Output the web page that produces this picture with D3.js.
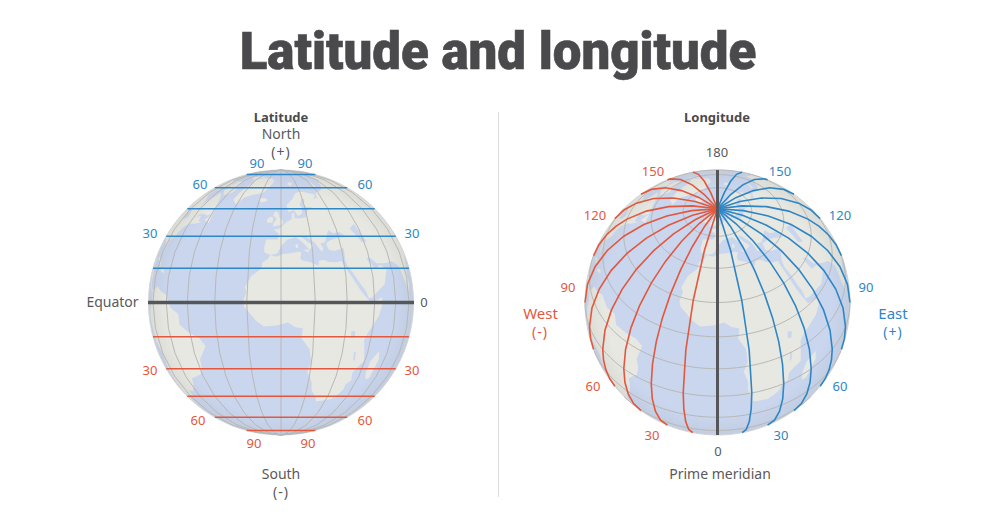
<!DOCTYPE html>
<html>
<head>
<meta charset="utf-8">
<script src="https://cdn.jsdelivr.net/npm/d3@7"></script>
<style>
  html, body { margin: 0; background: #fff; }
  text { font-family: "Noto Sans", sans-serif; font-size: 13px; }
  .title { font-family: Roboto, sans-serif; font-weight: 900; font-size: 51px; fill: #4a4a4c; stroke: #4a4a4c; stroke-width: 0.6px; }
  .head { font-weight: 700; fill: #4a4a4c; }
  .word { font-size: 14px; }
  .big { font-size: 15px; }
  .sign { font-size: 14px; letter-spacing: 1px; }
</style>
</head>
<body>
<svg width="997" height="527"></svg>
<script>
// Colours
const blue = '#2f86c5';
const red = '#e2583e';
const dark = '#555659';
const textGray = '#59595b';

// Degrees drawn on the globes
const latitudes = [15, 30, 45, 60, 75];
const longitudes = [15, 30, 45, 60, 75, 90, 105, 120, 135, 150, 165];
const gridLongitudes = [-75, -60, -45, -30, -15, 0, 15, 30, 45, 60, 75];
const gridLatitudes = [-75, -60, -45, -30, -15, 0, 15, 30, 45, 60, 75];

// Land outlines, [lon, lat]
const africa = [[-5.9,35.8],[-2,35.2],[1,36.5],[5,36.8],[10,37.3],[11,36.9],[10.2,34.3],[11,33.2],[15,32.4],[19,30.4],[20,32.7],[23,32.7],[25,31.6],[29,31],[32.3,31.2],[32.5,30],[34,27],[35.5,24],[37,21],[38.5,18],[40,15.5],[43,12],[44,10.5],[47,11.2],[51.2,11.9],[50.8,9],[48,4.5],[44,1],[41,-2],[39,-5],[39.5,-9],[40.6,-15],[37,-17.8],[35,-20],[35.5,-24],[32.8,-26],[32.5,-28.5],[30.5,-31],[27,-33.8],[22,-34.2],[18.5,-34.2],[18,-32],[15,-27],[14.5,-22.5],[12,-17],[13.5,-12],[12.5,-6],[9,-1],[9.5,3.5],[6,4.3],[3,6.3],[-2,5],[-7.5,4.4],[-11,6.8],[-13.5,9.5],[-16.5,12.5],[-17.3,14.7],[-16,19],[-17,21],[-14.5,26],[-10,29.5],[-9.5,32.5],[-6.8,34.2]];
const eurasia = [[-5.5,36],[-9,37],[-9.5,39],[-8.8,43.2],[-2,43.4],[-1.2,46],[-4.7,48.4],[-1.5,48.7],[2,51],[4,52.5],[8,53.8],[8.5,57],[10.8,57.5],[10,54.5],[14,54],[19,54.5],[21,57],[24,59.3],[30,60],[23,60],[21.5,62],[25,65.5],[22,65.7],[17.5,62],[18.5,60],[16.5,56.5],[13,55.5],[11,59],[6,58],[5,62],[12,66],[18,70],[25,71],[31,70],[41,67],[35,64.5],[40,65],[44,68],[54,68.5],[60,69.5],[68,71],[73,73],[80,73],[90,75],[104,77.5],[113,74],[130,71],[140,73],[160,70],[180,69],[180,65],[177,62.5],[170,60],[163,59],[162,55],[156.7,51],[156,57],[160,61],[155,59.3],[143,59.3],[135.5,54.5],[140,48],[135,43.5],[130,42.5],[127.5,39.5],[129.4,36],[126.5,34.5],[125,38],[121,39],[118,39],[122,37],[120,34.5],[122,30.5],[120,26],[116,23],[110,21],[106,19.5],[109,13],[105,9],[100.5,13.5],[103,5],[104,1.5],[101,3],[98.5,8],[98,15],[94.5,16],[91,22.5],[87,21],[80,15],[80,11],[77.5,8],[73,18],[72.5,21],[67,24.8],[61,25.2],[57,26],[54,26.6],[50.5,30],[48,30],[50,26.5],[51.5,24.5],[56,25.5],[59.5,22.5],[55,17],[45,13],[43,13],[42,16],[39,21],[37,25],[35,28],[34.5,31],[35.8,35.5],[36,36.8],[30,36.2],[27,37],[26.3,40],[29,41.2],[35,42],[41.5,41.5],[38,44.5],[33.5,44.5],[31,46.5],[28,43],[26,40.8],[23,40.5],[24,38],[22.5,36.5],[19.5,41.5],[14,45],[12.5,44.5],[16,41.5],[18.5,40],[16,38],[12.5,41.8],[9,44.3],[3.5,43.3],[0,40],[-2,36.8]];
const northAmerica = [[-168,65.5],[-162,70],[-156,71.2],[-140,70],[-128,70],[-115,68],[-108,68],[-95,68.5],[-94,72],[-88,68],[-82,69.5],[-86,66],[-94,60],[-92,57],[-82,55],[-80,51.5],[-79,55],[-77,60],[-78,62.5],[-70,61],[-65,59],[-60,55],[-56,52],[-60,50],[-66,50],[-71,47],[-65,48.5],[-64,46],[-60,46],[-66,44],[-70,43],[-74,40.5],[-76,37],[-76,35],[-81,31.5],[-80,26],[-81,25],[-83,29],[-89,30],[-94,29.5],[-97.5,27],[-97.5,22],[-95,18.5],[-91,18.5],[-90,21],[-87,21],[-88,16],[-83.5,15],[-83.5,11],[-80,9],[-77.5,8.5],[-80,7.3],[-85,10],[-88,13],[-94,16],[-100,17],[-105,20],[-106,23],[-112,29],[-114.5,31],[-110,23],[-115,28],[-118,33],[-122,37],[-124,41],[-124,48],[-130,54],[-135,58],[-145,60],[-152,59],[-158,56],[-165,54.5],[-158,58.5],[-165,60.5],[-165,63.5],[-161,64.5]];
const southAmerica = [[-77.5,8.5],[-72,12],[-68,11],[-62,10.5],[-57,6],[-51,4.5],[-50,0],[-44,-2.5],[-38,-4],[-35,-7],[-39,-14],[-39,-18],[-41,-22],[-48,-25.5],[-49,-29],[-53,-34],[-58,-34.5],[-57,-38],[-62,-39],[-65,-42],[-66,-46],[-69,-51],[-68,-54.5],[-73,-53],[-75,-48],[-73,-40],[-71,-30],[-70,-18],[-76,-14],[-81,-5],[-80,0],[-77,4]];
const greenland = [[-73,78],[-60,82],[-35,83.5],[-18,81],[-20,74],[-24,70],[-33,68],[-41,65],[-43,60],[-50,62],[-53,67],[-55,70],[-60,76]];
const iceland = [[-24,65.5],[-22,64],[-18,63.5],[-14,65],[-16,66.3],[-22,66.3]];
const britain = [[-5.5,50],[1,51],[1.5,52.8],[-1.5,55],[-2,57.5],[-5,58.5],[-6,56],[-3,54],[-5,52]];
const ireland = [[-10,52],[-6,52],[-6,55],[-8,55.2],[-10,54]];
const madagascar = [[49.3,-12],[50.3,-16],[47.5,-25],[45,-25.5],[43.5,-22],[44.5,-16]];
const spitsbergen = [[12,78],[20,80],[25,78],[17,76.5]];
const novayaZemlya = [[52,71],[56,74],[68,77],[60,74],[56,71]];
const baffin = [[-62,66],[-68,62],[-78,64],[-88,71],[-80,73.5],[-70,70]];
const ellesmere = [[-90,77],[-85,82],[-65,83],[-75,78]];
const cuba = [[-85,22],[-75,20],[-78,22],[-82,23]];
const hispaniola = [[-74,18.5],[-68.5,18.5],[-70,20],[-73,20]];
const newfoundland = [[-59,47.5],[-53,47],[-56,51.5]];
const sardinia = [[8.3,39],[9.7,39.2],[9.6,41],[8.3,41]];
const sicily = [[12.5,38],[15.6,38.2],[15,36.7]];
const landOutlines = [africa, eurasia, northAmerica, southAmerica, greenland, iceland, britain, ireland, madagascar, spitsbergen, novayaZemlya, baffin, ellesmere, cuba, hispaniola, newfoundland, sardinia, sicily];

// Inland water
const caspian = [[47,45],[53,46.5],[53,40],[54,37],[50,37.5],[49,41]];
const victoria = [[32,0],[34,0],[34,-3],[32,-3]];
const malawi = [[34,-9.5],[35,-10],[35,-14],[34,-13.5]];
const greatLakes = [[-92,47],[-85,47.5],[-80,45],[-82,43],[-87,42],[-88,45]];
const waterOutlines = [caspian, victoria, malawi, greatLakes];

const svg = d3.select('svg');
const radius = 132.5;

// Makes a ring into a polygon, flipped if d3 reads it as covering the outside
function polygon(ring) {
    const closed = ring.concat([ring[0]]);
    const feature = { type: 'Polygon', coordinates: [closed] };
    if (d3.geoArea(feature) > 2 * Math.PI) feature.coordinates = [closed.slice().reverse()];
    return feature;
}
const parallel = lat => ({ type: 'LineString', coordinates: d3.range(-180, 181, 3).map(lon => [lon, lat]) });
const meridian = lon => ({ type: 'LineString', coordinates: [[lon, 90], [lon, 45], [lon, 0], [lon, -45], [lon, -90]] });

const defs = svg.append('defs');
const shade = defs.append('radialGradient').attr('id', 'shade');
shade.append('stop').attr('offset', '86%').attr('stop-color', '#9a9a9a').attr('stop-opacity', 0);
shade.append('stop').attr('offset', '100%').attr('stop-color', '#9a9a9a').attr('stop-opacity', 0.16);

// Ocean and land are the same on both globes, only the lines differ
function drawGlobe(cx) {
    const projection = d3.geoOrthographic().scale(radius).translate([cx, 302.5]).rotate([0, -15]);
    const path = d3.geoPath(projection);
    const g = svg.append('g');
    g.append('path').datum({ type: 'Sphere' }).attr('d', path).attr('fill', '#c9d6ee');
    g.selectAll('.land').data(landOutlines.map(polygon)).join('path')
        .attr('class', 'land').attr('d', path).attr('fill', '#e8e8e2');
    g.selectAll('.water').data(waterOutlines.map(polygon)).join('path')
        .attr('class', 'water').attr('d', path).attr('fill', '#c9d6ee');
    g.append('path').datum({ type: 'Sphere' }).attr('d', path).attr('fill', 'url(#shade)')
        .attr('stroke', '#d6d6d4').attr('stroke-width', 1);
    return g;
}

function addLines(g, path, data, color, width) {
    g.selectAll(null).data(data).join('path')
        .attr('d', path).attr('fill', 'none')
        .attr('stroke', color).attr('stroke-width', width);
}

// Latitude globe
const latGlobe = drawGlobe(281);
const latPath = d3.geoPath(d3.geoOrthographic().scale(radius).translate([281, 302.5]).rotate([0, 0]));
addLines(latGlobe, latPath, gridLongitudes.map(meridian), '#b8b8b6', 1);
addLines(latGlobe, latPath, latitudes.map(parallel), blue, 1.6);
addLines(latGlobe, latPath, latitudes.map(d => parallel(-d)), red, 1.6);
latGlobe.append('line').attr('x1', 148).attr('x2', 414).attr('y1', 302.5).attr('y2', 302.5)
    .attr('stroke', dark).attr('stroke-width', 3.5);

// Longitude globe
const lonGlobe = drawGlobe(717.5);
const lonPath = d3.geoPath(d3.geoOrthographic().scale(radius).translate([717.5, 302.5]).rotate([0, -45]));
addLines(lonGlobe, lonPath, gridLatitudes.map(parallel), '#b8b8b6', 1);
addLines(lonGlobe, lonPath, longitudes.map(meridian), blue, 1.6);
addLines(lonGlobe, lonPath, longitudes.map(d => meridian(-d)), red, 1.6);
addLines(lonGlobe, lonPath, [meridian(0), meridian(180)], dark, 3);

// Divider between the two globes
svg.append('line').attr('x1', 498.5).attr('x2', 498.5).attr('y1', 112).attr('y2', 497)
    .attr('stroke', '#dcdcdc').attr('stroke-width', 1);

// Text
svg.append('text').attr('class', 'title').attr('x', 498).attr('y', 69)
    .attr('text-anchor', 'middle').text('Latitude and longitude');

function label(x, y, text, color, cls) {
    svg.append('text').attr('class', cls || null)
        .attr('x', x).attr('y', y).attr('dy', '0.35em')
        .attr('text-anchor', 'middle').attr('fill', color).text(text);
}

label(281, 117, 'Latitude', '#4a4a4c', 'head');
label(281, 134, 'North', textGray, 'word');
label(281, 152, '(+)', textGray, 'sign');
label(257, 163, '90', blue);
label(305, 163, '90', blue);
label(200, 184, '60', blue);
label(365, 184, '60', blue);
label(150, 233, '30', blue);
label(412, 233, '30', blue);
label(112.5, 302, 'Equator', textGray, 'word');
label(424, 302, '0', textGray);
label(150, 370, '30', red);
label(412, 370, '30', red);
label(198, 420, '60', red);
label(365, 420, '60', red);
label(254, 443, '90', red);
label(308, 443, '90', red);
label(281, 474, 'South', textGray, 'word');
label(281, 492, '(-)', textGray, 'sign');

label(717, 117, 'Longitude', '#4a4a4c', 'head');
label(717, 152, '180', textGray);
label(653, 171, '150', red);
label(780, 171, '150', blue);
label(595, 215, '120', red);
label(840, 215, '120', blue);
label(568, 287, '90', red);
label(866, 287, '90', blue);
label(540.5, 314, 'West', red, 'big');
label(540, 332, '(-)', red, 'sign');
label(893, 314, 'East', blue, 'big');
label(893, 332, '(+)', blue, 'sign');
label(593, 386, '60', red);
label(840, 386, '60', blue);
label(652, 435, '30', red);
label(781, 435, '30', blue);
label(718, 451, '0', textGray);
label(720, 474, 'Prime meridian', textGray, 'word');
</script>
</body>
</html>
